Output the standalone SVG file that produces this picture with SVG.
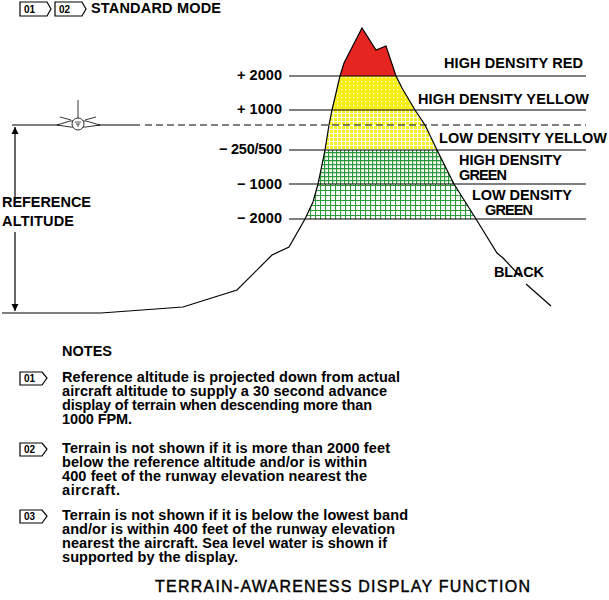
<svg xmlns="http://www.w3.org/2000/svg" width="609" height="600" viewBox="0 0 609 600">
<style>
text{font-family:"Liberation Sans",Arial,sans-serif;font-weight:bold;font-size:14.5px;fill:#000}
.ln{stroke:#000;stroke-width:1.2;fill:none}
.box{fill:#fff;stroke:#000;stroke-width:1.2}
.bt{font-size:10px}
</style>
<defs>
<pattern id="hy" width="4" height="4" patternUnits="userSpaceOnUse"><rect width="4" height="4" fill="#f5ee10"/><rect x="1" y="1" width="1.2" height="1.2" fill="#fff"/></pattern>
<pattern id="ly" width="4" height="4" patternUnits="userSpaceOnUse"><rect width="4" height="4" fill="#f5ee10"/><path d="M0 1.5H4M1.5 0V4" stroke="#fff" stroke-width="1.2"/></pattern>
<pattern id="hg" width="4" height="4" patternUnits="userSpaceOnUse"><rect width="4" height="4" fill="#fff"/><path d="M0 0.5H4M0.5 0V4" stroke="#2a9a3a" stroke-width="1.4"/></pattern>
<pattern id="lg" width="5" height="5" patternUnits="userSpaceOnUse"><rect width="5" height="5" fill="#fff"/><path d="M0 0.5H5M0.5 0V5" stroke="#2a9a3a" stroke-width="1.2"/></pattern>
<clipPath id="mt"><path d="M305 219 L313 202 L318 184 L325 150 L329 125 L332 110 L340 76 L344 63 L362 28 L376 50 L386 46 L396 76 L402 88 L415 110 L425 125 L437 150 L454 184 L476 219 Z"/></clipPath>
<marker id="ar" viewBox="0 0 8 10" refX="8" refY="5" markerWidth="6" markerHeight="8" orient="auto"><path d="M0 1 L8 5 L0 9 Z" fill="#000"/></marker>
</defs>
<g id="header">
<path class="box" d="M20 2H47L51 9L47 16H20Z"/><text class="bt" x="24" y="13">01</text>
<path class="box" d="M55 2H82L86 9L82 16H55Z"/><text class="bt" x="59" y="13">02</text>
<text x="91" y="13" textLength="130">STANDARD MODE</text>
</g>
<g id="mountain">
<g clip-path="url(#mt)">
<rect x="290" y="20" width="200" height="56" fill="#e52520"/>
<rect x="290" y="76" width="200" height="34" fill="url(#hy)"/>
<rect x="290" y="110" width="200" height="40" fill="url(#ly)"/>
<rect x="290" y="150" width="200" height="34" fill="url(#hg)"/>
<rect x="290" y="184" width="200" height="35" fill="url(#lg)"/>
</g>
<path class="ln" d="M2 313 L101 313 L183 307 L237 290 L272 255 L289 247 L305 219 L313 202 L318 184 L325 150 L329 125 L332 110 L340 76 L344 63 L362 28 L376 50 L386 46 L396 76 L402 88 L415 110 L425 125 L437 150 L454 184 L476 219 L497 253 L503 258 L520 276"/>
<path class="ln" d="M526 284 L551 306"/>
</g>
<g id="connectors">
<path class="ln" d="M289 76H586M289 110H586M289 150H586M289 184H586M289 219H586"/>
<path class="ln" d="M12 125H140"/>
<path class="ln" d="M145 125H586" stroke-dasharray="7,4"/>
<path class="ln" d="M15 200V127" marker-end="url(#ar)"/>
<path class="ln" d="M15 232V311" marker-end="url(#ar)"/>
</g>
<g id="aircraft" fill="#fff" stroke="#000" stroke-width="0.8">
<path d="M78 100 L78 118"/>
<path d="M57 125 L70 121 L86 121 L100 125 L86 127 L70 127 Z"/>
<path d="M60 117 L71 120 M96 117 L85 120"/>
<circle cx="78" cy="124" r="6"/>
<path d="M75 122 H81 M76 124 H80 M78 124 V127" stroke-width="0.7"/>
</g>
<g id="labels">
<text x="282" y="80" text-anchor="end" textLength="45">+ 2000</text>
<text x="282" y="114" text-anchor="end" textLength="45">+ 1000</text>
<text x="282" y="154" text-anchor="end" textLength="63">− 250/500</text>
<text x="282" y="189" text-anchor="end" textLength="45">− 1000</text>
<text x="282" y="223" text-anchor="end" textLength="45">− 2000</text>
<text x="444" y="68" textLength="139">HIGH DENSITY RED</text>
<text x="418" y="104" textLength="171">HIGH DENSITY YELLOW</text>
<text x="439" y="143" textLength="168">LOW DENSITY YELLOW</text>
<text x="459" y="165" textLength="103">HIGH DENSITY</text>
<text x="459" y="180" textLength="48">GREEN</text>
<text x="472" y="200" textLength="100">LOW DENSITY</text>
<text x="485" y="215" textLength="48">GREEN</text>
<text x="494" y="277" textLength="50">BLACK</text>
<text x="2" y="207" textLength="89">REFERENCE</text>
<text x="2" y="226" textLength="72">ALTITUDE</text>
</g>
<g id="notes">
<text x="62" y="356" textLength="50">NOTES</text>
<path class="box" d="M20 372H42L47 378L42 385H20Z"/><text class="bt" x="24" y="382">01</text>
<text x="62" y="382" textLength="338">Reference altitude is projected down from actual</text>
<text x="62" y="396" textLength="325">aircraft altitude to supply a 30 second advance</text>
<text x="62" y="410" textLength="310">display of terrain when descending more than</text>
<text x="62" y="424" textLength="70">1000 FPM.</text>
<path class="box" d="M20 443H42L47 449L42 456H20Z"/><text class="bt" x="24" y="453">02</text>
<text x="62" y="453" textLength="328">Terrain is not shown if it is more than 2000 feet</text>
<text x="62" y="467" textLength="305">below the reference altitude and/or is within</text>
<text x="62" y="481" textLength="305">400 feet of the runway elevation nearest the</text>
<text x="62" y="495" textLength="58">aircraft.</text>
<path class="box" d="M20 510H42L47 516L42 523H20Z"/><text class="bt" x="24" y="520">03</text>
<text x="62" y="520" textLength="346">Terrain is not shown if it is below the lowest band</text>
<text x="62" y="534" textLength="333">and/or is within 400 feet of the runway elevation</text>
<text x="62" y="548" textLength="325">nearest the aircraft. Sea level water is shown if</text>
<text x="62" y="562" textLength="176">supported by the display.</text>
<text x="155" y="592" textLength="375" style="font-size:16px;font-weight:normal;stroke:#000;stroke-width:0.4">TERRAIN-AWARENESS DISPLAY FUNCTION</text>
</g>
</svg>
